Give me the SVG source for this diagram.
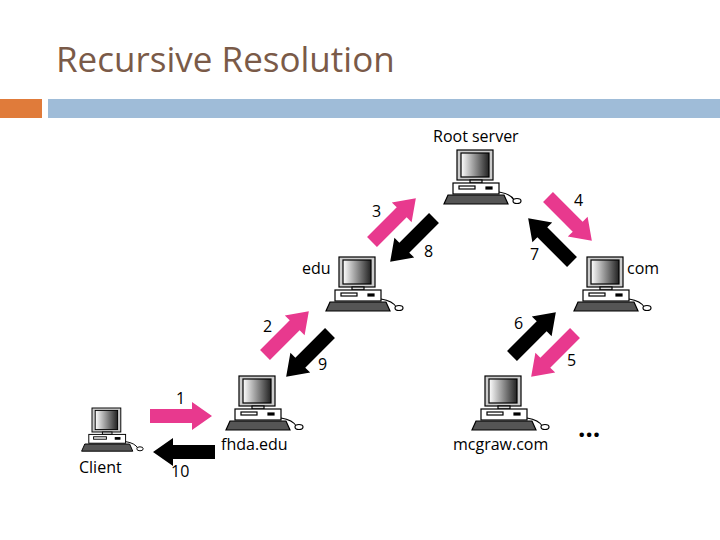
<svg xmlns="http://www.w3.org/2000/svg" width="720" height="540" viewBox="0 0 720 540">
<style>
text{font-family:"Open Sans","Liberation Sans",sans-serif;fill:#000}
.lbl{font-size:16px}
.pink{fill:#e8398e}
.blk{fill:#000}
</style>
<defs>
<linearGradient id="scr" x1="0" x2="1" y1="0" y2="0"><stop offset="0" stop-color="#fff"/><stop offset="1" stop-color="#222"/></linearGradient>
<path id="arr" d="M0,-7 H42 V-14 L62,0 L42,14 V7 H0 Z"/>
<g id="pc" stroke="#000" stroke-width="1.2">
<rect x="0" y="0" width="36" height="30" fill="#ccc"/>
<rect x="4" y="3" width="28" height="24" fill="url(#scr)"/>
<rect x="13" y="30" width="12" height="3" fill="#ddd"/>
<rect x="-4" y="33" width="46" height="11" fill="#fff"/>
<rect x="2" y="36" width="16" height="3" fill="#fff"/>
<rect x="29" y="37" width="6" height="2" fill="#000"/>
<path d="M-9,45 H47 L51,54 H-13 Z" fill="#555"/>
<path d="M42,42 Q54,44 57,50" fill="none"/>
<ellipse cx="60" cy="51" rx="4" ry="2.5" fill="#fff"/>
</g>
</defs>
<rect width="720" height="540" fill="#fff"/>
<text x="56" y="72" style="font-size:35px;fill:#7a5a48">Recursive Resolution</text>
<rect x="0" y="99" width="42" height="19" fill="#e07b3a"/>
<rect x="48" y="99" width="672" height="19" fill="#9fbcd8"/>
<g id="root"><use href="#pc" x="457" y="150"/><text x="433" y="142" class="lbl">Root server</text></g>
<g id="edu"><use href="#pc" x="339" y="257"/><text x="302" y="274" class="lbl">edu</text></g>
<g id="com"><use href="#pc" x="587" y="257"/><text x="627" y="274" class="lbl">com</text></g>
<g id="fhda"><use href="#pc" x="239" y="376"/><text x="221" y="450" class="lbl">fhda.edu</text></g>
<g id="mcgraw"><use href="#pc" x="485" y="376"/><text x="453" y="450" class="lbl">mcgraw.com</text></g>
<g id="client"><use href="#pc" transform="translate(92,408) scale(0.8)"/><text x="79" y="473" class="lbl">Client</text></g>
<text x="578" y="437" style="font-size:26px;font-weight:bold">…</text>
<g id="connectors">
<use href="#arr" class="pink" transform="translate(150,416)"/>
<use href="#arr" class="blk" transform="translate(215,452) rotate(180)"/>
<use href="#arr" class="pink" transform="translate(265,355) rotate(-45)"/>
<use href="#arr" class="blk" transform="translate(330,333) rotate(135)"/>
<use href="#arr" class="pink" transform="translate(372,242) rotate(-45)"/>
<use href="#arr" class="blk" transform="translate(434,218) rotate(135)"/>
<use href="#arr" class="pink" transform="translate(548,197) rotate(45)"/>
<use href="#arr" class="blk" transform="translate(572,262) rotate(-135)"/>
<use href="#arr" class="blk" transform="translate(512,356) rotate(-45)"/>
<use href="#arr" class="pink" transform="translate(575,333) rotate(135)"/>
</g>
<g>
<text x="176" y="404" class="lbl">1</text>
<text x="171" y="477" class="lbl">10</text>
<text x="263" y="332" class="lbl">2</text>
<text x="318" y="370" class="lbl">9</text>
<text x="372" y="217" class="lbl">3</text>
<text x="424" y="257" class="lbl">8</text>
<text x="574" y="206" class="lbl">4</text>
<text x="530" y="260" class="lbl">7</text>
<text x="514" y="329" class="lbl">6</text>
<text x="567" y="366" class="lbl">5</text>
</g>
</svg>
